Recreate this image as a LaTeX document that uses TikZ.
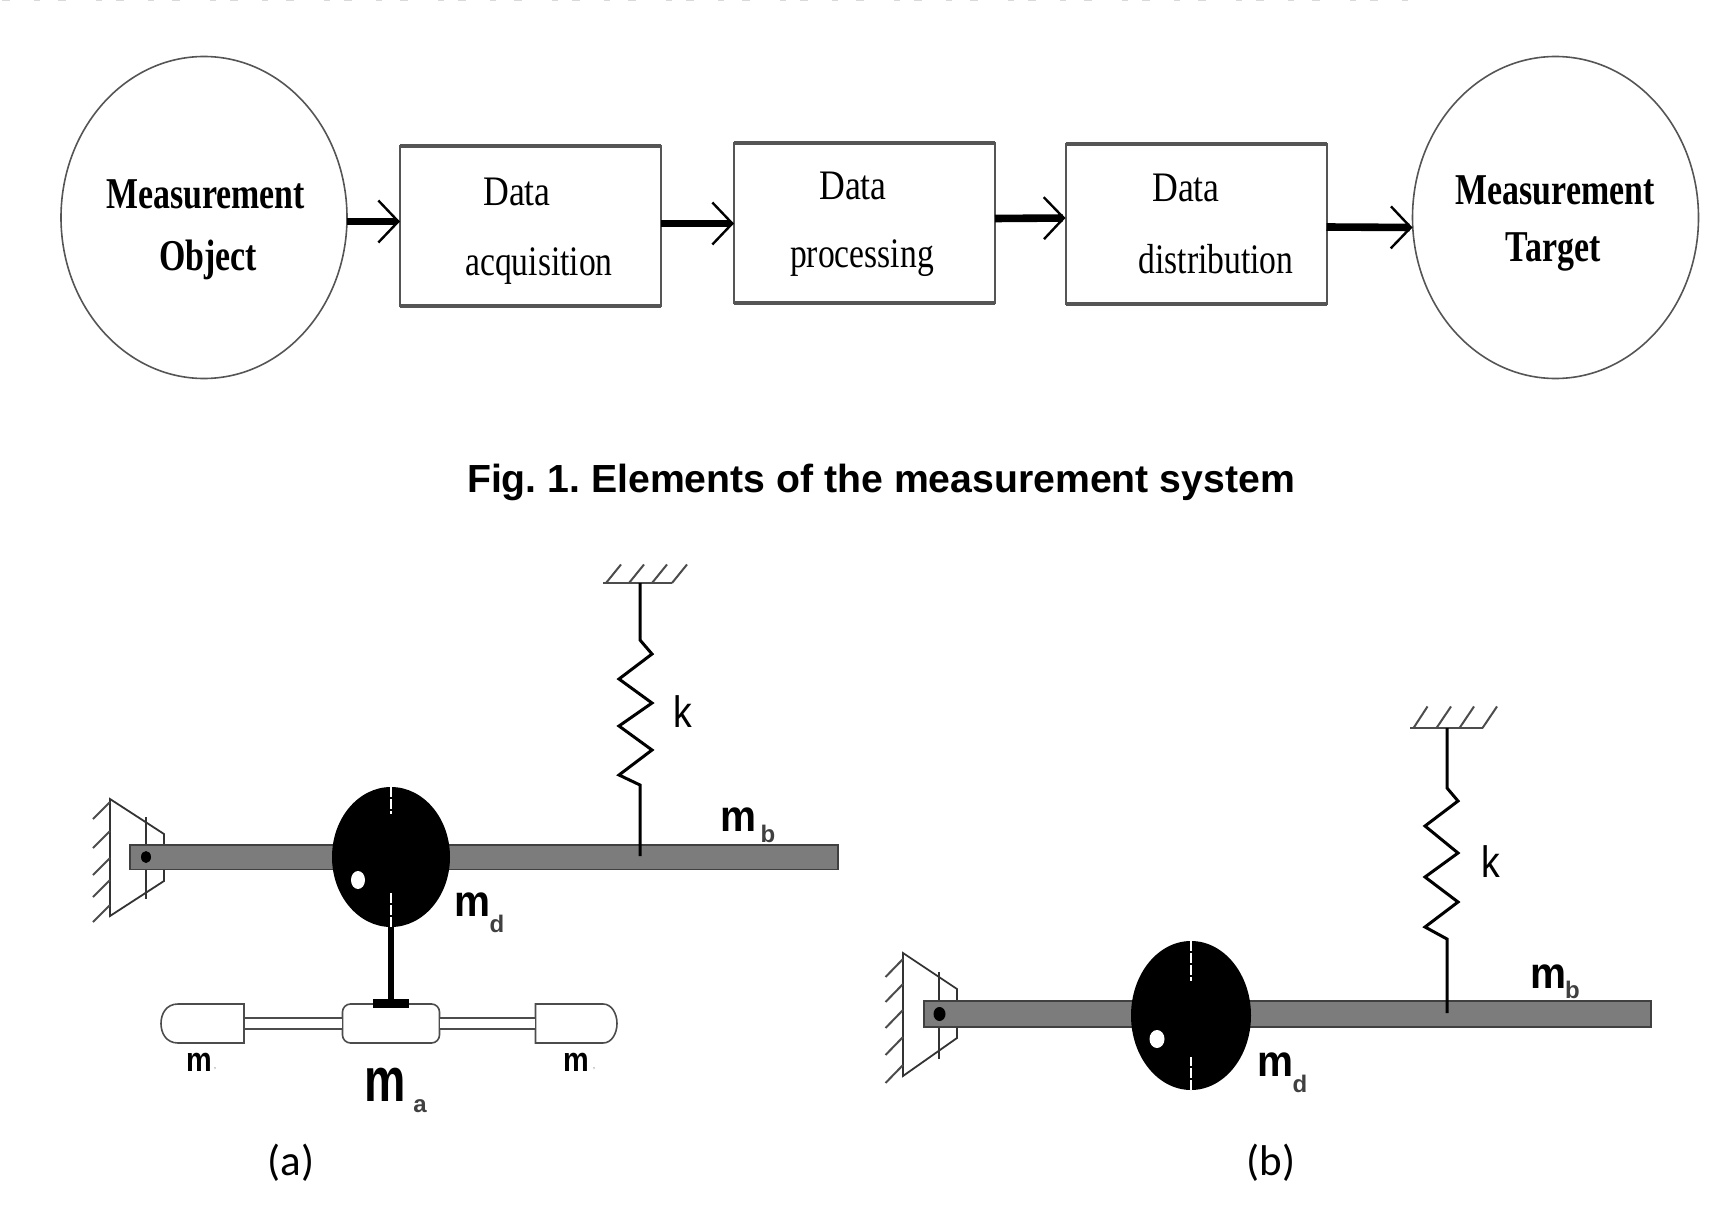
\documentclass[tikz,border=0pt]{standalone}
\usepackage{fontspec}
\setmainfont{Liberation Serif}
\newfontfamily\sansf{Liberation Sans}
\newfontfamily\calf{Carlito}
\usetikzlibrary{arrows.meta,shapes.geometric,calc}
\definecolor{edge}{HTML}{555555}
\definecolor{beamc}{HTML}{7C7C7C}
\newcommand{\Sq}[2]{\scalebox{#1}[1]{#2}}
\newcommand{\Sub}[1]{{\sansf\bfseries\fontsize{12}{12}\selectfont\color{black!75}#1}}
\tikzset{
  x=0.5pt,y=-0.5pt,
  circ/.style={draw=edge,line width=0.8pt,ellipse,inner sep=0,outer sep=0,minimum width=143pt,minimum height=161pt},
  box/.style={draw=edge,line width=1pt,rectangle,inner sep=0,outer sep=0,minimum width=#1,minimum height=80pt},
  flow/.style={line width=3.8pt,-{Straight Barb[length=10pt,width=21pt,line width=1.2pt]}},
  bold text/.style={font=\fontsize{22}{24}\selectfont\bfseries,inner sep=0},
  plain text/.style={font=\fontsize{21}{24}\selectfont,inner sep=0},
  lab/.style={font=\sansf\bfseries\fontsize{22}{24}\selectfont,inner sep=0},
  labr/.style={font=\sansf\fontsize{22}{24}\selectfont,inner sep=0},
  subl/.style={inner sep=0},
  beam/.style={fill=beamc,draw=black!75,line width=0.8pt},
  thin line/.style={draw=black!80,line width=0.9pt},
  hatchl/.style={draw=black!70,line width=1pt},
  spring/.style={draw=black,line width=1.5pt,line join=miter},
  capt/.style={font=\calf\fontsize{21.5}{24}\selectfont,inner sep=0},
  part/.style={draw=black!70,fill=white,line width=0.8pt},
  axis dash/.style={white,line width=0.6pt,dash pattern=on 5pt off 1pt}
}
\begin{document}
\begin{tikzpicture}
\useasboundingbox (0,0) rectangle (1735,1214);
% remains of the text line cut off at the top edge
\coordinate (rowa) at (2,0.5); \coordinate (rowb) at (1412,0.5);
\draw[gray!30,line width=0.8pt,dash pattern=on 4pt off 12pt on 3pt off 9pt on 4pt off 15pt on 3pt off 7pt] (rowa) -- (rowb);
% flow chart
\node[circ] (c1) at (204,217.5) {};
\node[circ] (c2) at (1555.5,217.5) {};
\node[box=130.5pt] (b1) at (530.5,226.5) {};
\node[box=130.5pt] (b2) at (864.5,223.5) {};
\node[box=130.5pt] (b3) at (1196,224) {};
\foreach \n in {b1,b2,b3}{
  \draw[edge,line width=2pt] (\n.north west) -- (\n.north east);
  \draw[edge,line width=2pt] (\n.south west) -- (\n.south east);
}
\draw[flow] ([yshift=-2pt]c1.east) -- ([yshift=2.5pt]b1.west);
\draw[flow] ([yshift=1.5pt]b1.east) -- ([yshift=0pt]b2.west);
\draw[flow] ([yshift=2.5pt]b2.east) -- ([yshift=3pt]b3.west);
\draw[flow] ([yshift=-1.5pt]b3.east) -- ([yshift=-5pt]c2.west);
\node[bold text] (t1) at (205.5,194) {\Sq{.77}{Measurement}};
\node[bold text] (t2) at (208,260) {\Sq{.77}{Object}};
\node[plain text] (t3) at (517,192) {\Sq{.85}{Data}};
\node[plain text] (t4) at (539,266) {\Sq{.8}{acquisition}};
\node[plain text] (t5) at (853,186) {\Sq{.85}{Data}};
\node[plain text] (t6) at (862,258) {\Sq{.8}{processing}};
\node[plain text] (t7) at (1186,188) {\Sq{.85}{Data}};
\node[plain text] (t8) at (1216,259) {\Sq{.8}{distribution}};
\node[bold text] (t9) at (1555,190) {\Sq{.77}{Measurement}};
\node[bold text] (t10) at (1553,252) {\Sq{.77}{Target}};
\node[font=\sansf\bfseries\fontsize{19.6}{21}\selectfont,inner sep=0] (fig) at (881,482) {\frenchspacing Fig. 1. Elements of the measurement system};
% panel a
\coordinate (aw1) at (110,799); \coordinate (aw2) at (110,916);
\coordinate (at1) at (164,834); \coordinate (at2) at (164,881);
\draw[thin line] (aw1) -- (aw2) -- (at2) -- (at1) -- cycle;
\foreach \y in {819,848,875,897,922} \draw[hatchl] (93,\y) -- (110,\y-17);
\draw[thin line] (146,817) -- (146,899);
\node[beam,minimum width=354pt,minimum height=12.3pt,inner sep=0,outer sep=0] (ba) at (484,857) {};
\fill[black] (146,857) ellipse (5 and 6);
\node[ellipse,fill=black,inner sep=0,outer sep=0,minimum width=59pt,minimum height=70pt] (da) at (391,857) {};
\draw[axis dash] (da.north) -- +(0,27);
\draw[axis dash] (da.south) -- +(0,-35);
\fill[white] (358,880) ellipse (7 and 9);
\node[part,rectangle,rounded corners=4pt,minimum width=48.5pt,minimum height=19.5pt,inner sep=0,outer sep=0] (mc) at (391,1023.5) {};
\draw[line width=3pt] (da.south) -- (mc.north);
\node[fill=black,minimum width=18pt,minimum height=4.5pt,inner sep=0,outer sep=0] (cp) at (391,1003.5) {};
\draw[part] (244,1004) -- (178,1004) .. controls (166,1004) and (161,1014) .. (161,1023.5) .. controls (161,1033) and (166,1043) .. (178,1043) -- (244,1043) -- cycle;
\draw[part] (535.5,1004) -- (603,1004) .. controls (612,1004) and (617,1014) .. (617,1023.5) .. controls (617,1033) and (612,1043) .. (603,1043) -- (535.5,1043) -- cycle;
\draw[part] (244,1018) rectangle (mc.west |- 0,1029);
\draw[part] (mc.east |- 0,1018) rectangle (535.5,1029);
\draw[hatchl] (603,583) -- (672,583);
\draw[hatchl] (606,583) -- (621,564.5);
\draw[hatchl] (629,583) -- (644,564.5);
\draw[hatchl] (652,583) -- (667,564.5);
\draw[hatchl] (672,583) -- (687,564.5);
\draw[spring] (640,583) -- (640,640) -- (652,654) -- (619,679) -- (652,703) -- (619,726) -- (652,750) -- (619,775) -- (640,785) -- (640,856);
\node[labr] (ka) at (683,712) {\Sq{.85}{k}};
\node[lab] (mba) at (738,820) {\Sq{.92}{m}};
\node[subl] (sba) at (768,834) {\Sub{b}};
\node[lab] (mda) at (472,905) {\Sq{.92}{m}};
\node[subl] (sda) at (497,924) {\Sub{d}};
\node[lab,font=\sansf\bfseries\fontsize{31}{32}\selectfont] (maa) at (385,1085) {\Sq{.75}{m}};
\node[subl] (saa) at (420,1106) {\Sub{a}};
\node[lab,font=\sansf\bfseries\fontsize{17}{18}\selectfont] (m1a) at (199,1062) {\Sq{.85}{m}};
\node[subl,font=\fontsize{4}{4}\selectfont,text=black!60] (c1a) at (215,1069) {,};
\node[lab,font=\sansf\bfseries\fontsize{17}{18}\selectfont] (m2a) at (576,1062) {\Sq{.85}{m}};
\node[subl,font=\fontsize{4}{4}\selectfont,text=black!60] (c2a) at (594,1069) {,};
\node[capt] (la) at (291,1163) {(a)};
% panel b
\draw[thin line] (903,953) -- (903,1076) -- (957,1038) -- (957,989) -- cycle;
\foreach \y in {977,1002,1028,1055,1083} \draw[hatchl] (885.5,\y) -- (903,\y-18);
\draw[thin line] (939,972) -- (939,1059);
\node[beam,minimum width=363.5pt,minimum height=13pt,inner sep=0,outer sep=0] (bb) at (1287.5,1014) {};
\fill[black] (939.5,1014) ellipse (6 and 7);
\node[ellipse,fill=black,inner sep=0,outer sep=0,minimum width=60pt,minimum height=74.5pt] (db) at (1191,1015.5) {};
\draw[axis dash] (db.north) -- +(0,40);
\draw[axis dash] (db.south) -- +(0,-33);
\fill[white] (1157,1039) ellipse (7.5 and 9);
\draw[hatchl] (1410,728) -- (1482.5,728);
\draw[hatchl] (1413.5,728) -- (1427.5,706.5);
\draw[hatchl] (1436.5,728) -- (1451,706.5);
\draw[hatchl] (1459.5,728) -- (1474,706.5);
\draw[hatchl] (1482.5,728) -- (1497,706.5);
\draw[spring] (1447,728) -- (1447,788) -- (1458,801) -- (1425,826) -- (1458,853) -- (1425,877) -- (1458,902) -- (1425,927) -- (1447,939) -- (1447,1013);
\node[labr] (kb) at (1491,862) {\Sq{.85}{k}};
\node[lab] (mbb) at (1548.5,977) {\Sq{.92}{m}};
\node[subl] (sbb) at (1572.5,990) {\Sub{b}};
\node[lab] (mdb) at (1275,1065) {\Sq{.92}{m}};
\node[subl] (sdb) at (1300,1084) {\Sub{d}};
\node[capt] (lb) at (1271,1163) {(b)};
\end{tikzpicture}
\end{document}
